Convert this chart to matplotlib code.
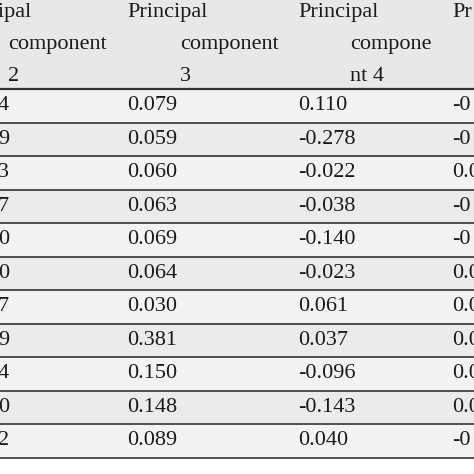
import matplotlib.pyplot as plt

col1 = ["4", "9", "3", "7", "0", "0", "7", "9", "04", "0", "2"]
pc3 = ["0.079", "0.059", "0.060", "0.063", "0.069", "0.064", "0.030", "0.381", "0.150", "0.148", "0.089"]
pc4 = ["0.110", "-0.278", "-0.022", "-0.038", "-0.140", "-0.023", "0.061", "0.037", "-0.096", "-0.143", "0.040"]
col5 = ["-0", "-0", "0.0", "-0", "-0", "0.0", "0.0", "0.0", "0.0", "0.0", "-0"]

fig = plt.figure(figsize=(4.74, 4.74), dpi=100)
ax = fig.add_axes([0, 0, 1, 1])
ax.set_xlim(0, 474)
ax.set_ylim(474, 0)
ax.axis("off")

fs = 16
font = dict(family="Liberation Serif", fontsize=fs, color="#1a1a1a", va="center")

ax.axhspan(0, 89, color="#e8e8e8", lw=0)
ax.text(-12, 12, "cipal", **font)
ax.text(8, 44, "component", **font)
ax.text(8, 76, "2", **font)
for x0, x1, words in [(127, 180, ["Principal", "component", "3"]),
                      (298, 350, ["Principal", "compone", "nt 4"])]:
    ax.text(x0, 12, words[0], **font)
    ax.text(x1, 44, words[1], **font)
    ax.text(x1, 76, words[2], **font)
ax.text(452, 12, "Pr", **font)

y0 = 89
h = 33.5
ax.axhline(y0, color="#333333", lw=1.6)
for i in range(len(pc3)):
    top = y0 + i * h
    ax.axhspan(top, top + h, color="#f3f3f3" if i % 2 == 0 else "#ebebeb", lw=0)
    yc = top + h / 2
    ax.text(9, yc, col1[i], ha="right", **font)
    ax.text(127, yc, pc3[i], **font)
    ax.text(298, yc, pc4[i], **font)
    ax.text(452, yc, col5[i], **font)
    ax.axhline(top + h, color="#333333", lw=1.2)

fig.savefig("out.png", dpi=100)
